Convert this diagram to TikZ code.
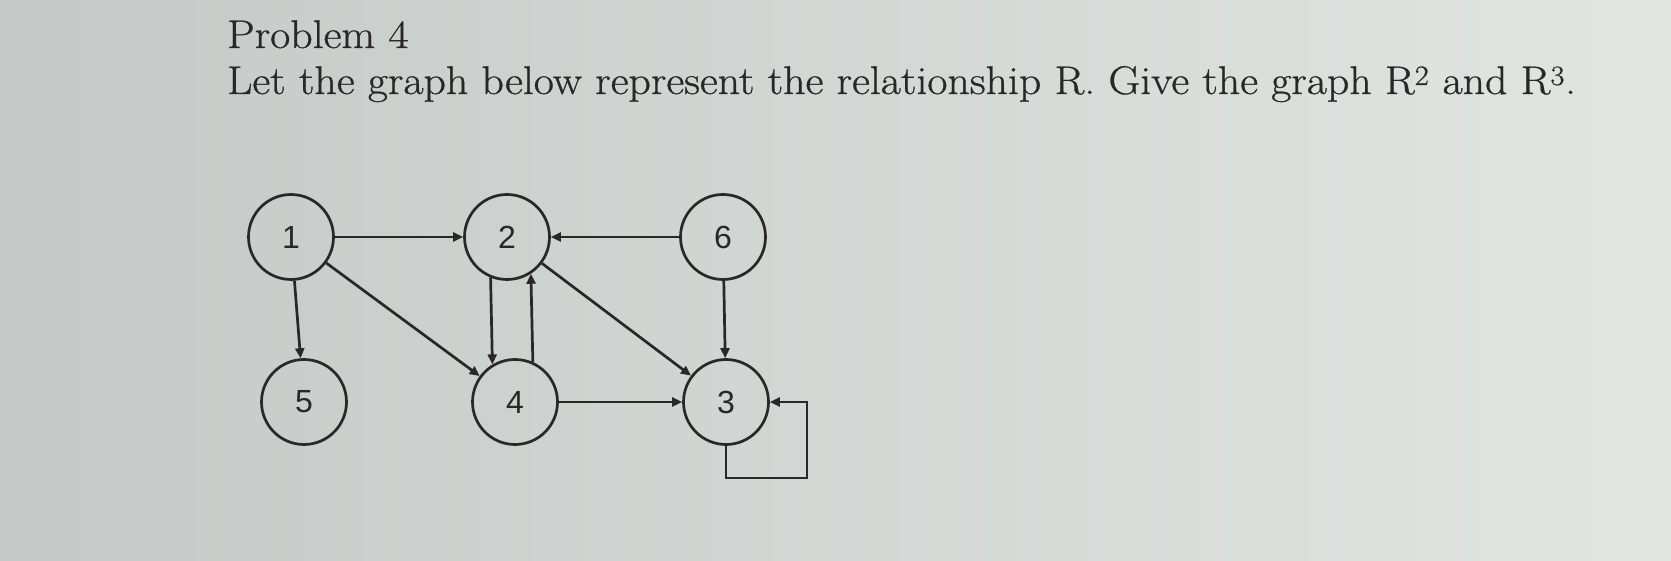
\documentclass[tikz,border=0pt]{standalone}
\usepackage{graphicx}
\usepackage{fontspec}
\newfontfamily\labelfont{Liberation Sans}
\newfontfamily\headfont{Latin Modern Roman}[FakeBold=0.7]
\usetikzlibrary{arrows.meta}
\definecolor{ink}{RGB}{40,40,40}
\definecolor{bgL}{RGB}{196,201,199}
\definecolor{bgR}{RGB}{226,229,226}
\begin{document}
\begin{tikzpicture}[x=1pt,y=-1pt,
  vtx/.style={circle,draw=ink,line width=2.7pt,minimum size=85pt,inner sep=0pt,
    font=\fontsize{32}{32}\labelfont,text=ink},
  edge/.style={draw=ink,line width=2.7pt,-{Triangle[length=10pt,width=9pt]}},
  txt/.style={anchor=base west,inner sep=0pt,text=ink,font=\fontsize{40}{40}\headfont}]
\shade[left color=bgL,right color=bgR] (0,0) rectangle (1671,561);
\useasboundingbox (0,0) rectangle (1671,561);
\node[txt] (title) at (227,48) {\scalebox{1.095}[1]{Problem 4}};
\node[txt] (task) at (227,94) {\scalebox{1.095}[1]{Let the graph below represent the relationship R. Give the graph R\textsuperscript{2} and R\textsuperscript{3}.}};
\node[vtx] (n1) at (291,237) {1};
\node[vtx] (n2) at (507,237) {2};
\node[vtx] (n6) at (723,237) {6};
\node[vtx] (n5) at (304,402) {5};
\node[vtx] (n4) at (515,402) {4};
\node[vtx] (n3) at (726,402) {3};
\coordinate (lp) at (807,478);
\draw[edge] (n1) -- (n2);
\draw[edge] (n6) -- (n2);
\draw[edge] (n1) -- (n5);
\draw[edge] (n1) -- (n4);
\draw[edge] (n2.248) -- (n4.121);
\draw[edge] (n4.66) -- (n2.303);
\draw[edge] (n2) -- (n3);
\draw[edge] (n6) -- (n3);
\draw[edge] (n4) -- (n3);
\draw[edge] (n3.south) |- (lp) |- (n3.east);
\end{tikzpicture}
\end{document}
